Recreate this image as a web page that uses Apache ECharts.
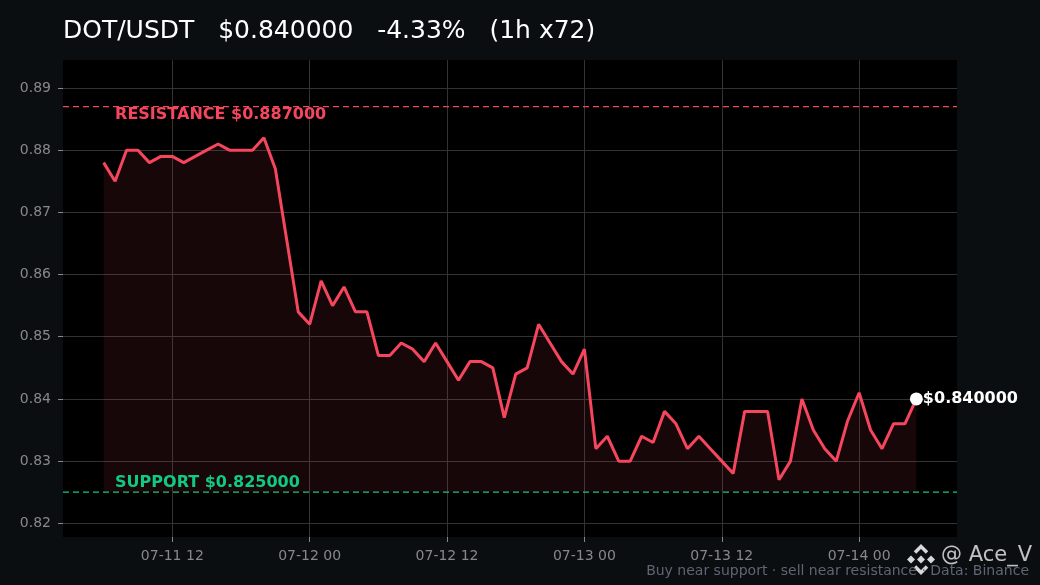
<!DOCTYPE html>
<html>
<head>
<meta charset="utf-8">
<script src="https://cdn.jsdelivr.net/npm/echarts@6/dist/echarts.min.js"></script>
<style>
html,body{margin:0;padding:0;background:#0b0e11;}
#c{width:1040px;height:585px;}
</style>
</head>
<body>
<div id="c"></div>
<script>
// hours since 07-11 00:00 (first point 07-11 06:00, hourly, 72 points)
const startHour = 6;
const prices = [
  0.878,0.875,0.880,0.880,0.878,0.879,0.879,0.878,0.879,0.880,
  0.881,0.880,0.880,0.880,0.882,0.877,0.8655,0.854,0.852,0.859,
  0.855,0.858,0.854,0.854,0.847,0.847,0.849,0.848,0.846,0.849,
  0.846,0.843,0.846,0.846,0.845,0.837,0.844,0.845,0.852,0.849,
  0.846,0.844,0.848,0.832,0.834,0.830,0.830,0.834,0.833,0.838,
  0.836,0.832,0.834,0.832,0.830,0.828,0.838,0.838,0.838,0.827,
  0.830,0.840,0.835,0.832,0.830,0.8365,0.841,0.835,0.832,0.836,
  0.836,0.840
];
const xTicks = [12,24,36,48,60,72];
const xTickLabels = ['07-11 12','07-12 00','07-12 12','07-13 00','07-13 12','07-14 00'];
const yTicks = [0.82,0.83,0.84,0.85,0.86,0.87,0.88,0.89];
const resistance = 0.887;
const support = 0.825;
const lastPrice = 0.840;
const titleText = 'DOT/USDT   $0.840000   -4.33%   (1h x72)';
const footerText = 'Buy near support · sell near resistance · Data: Binance';

const seriesData = prices.map((p,i)=>[startHour+i,p]);
const lastHour = startHour + prices.length - 1;
const pad = (lastHour - startHour) * 0.05;
const xMin = startHour - pad, xMax = lastHour + pad;

const chart = echarts.init(document.getElementById('c'));
const FONT = 'DejaVu Sans';
const RED = '#f6465d';
const GREEN = '#0ecb81';

function levelSeries(val, color, text, dy) {
  return {
    type: 'line',
    data: [[xMin, val], [xMax, val]],
    symbol: 'none',
    silent: true,
    lineStyle: {color: color, type: [6,4], width: 1.3},
    z: 2,
    markPoint: {
      silent: true,
      symbol: 'circle', symbolSize: 0,
      data: [{coord: [startHour + 1, val]}],
      label: {show: true, formatter: text, position: 'right', offset: [-5, dy], color: color, fontWeight: 'bold', fontSize: 16, fontFamily: FONT}
    }
  };
}

chart.setOption({
  backgroundColor: '#0b0e11',
  animation: false,
  textStyle: {fontFamily: FONT},
  title: {
    text: titleText,
    left: 58, top: 14,
    textStyle: {color: '#ffffff', fontSize: 25, fontWeight: 'normal', fontFamily: FONT}
  },
  grid: {
    left: 63, right: 83, top: 60, bottom: 48,
    show: true, backgroundColor: '#000000', borderWidth: 0
  },
  xAxis: {
    type: 'value',
    min: xMin, max: xMax,
    axisLine: {show: false},
    axisTick: {show: true, length: 5, lineStyle: {color: '#888'}, customValues: xTicks},
    axisLabel: {
      color: '#888', fontSize: 14, margin: 12, fontFamily: FONT,
      customValues: xTicks,
      formatter: v => xTickLabels[xTicks.indexOf(v)] || ''
    },
    splitLine: {show: true, lineStyle: {color: '#333', width: 1}}
  },
  yAxis: {
    type: 'value',
    min: 0.8178, max: 0.8945,
    axisLine: {show: false},
    axisTick: {show: true, length: 5, lineStyle: {color: '#888'}, customValues: yTicks},
    axisLabel: {
      color: '#888', fontSize: 14, margin: 12, fontFamily: FONT,
      customValues: yTicks,
      formatter: v => v.toFixed(2)
    },
    splitLine: {show: true, lineStyle: {color: '#333', width: 1}}
  },
  series: [
    {
      type: 'line',
      data: seriesData,
      symbol: 'none',
      lineStyle: {color: RED, width: 3},
      areaStyle: {color: 'rgba(246,70,93,0.14)', origin: support},
      z: 3
    },
    levelSeries(resistance, RED, 'RESISTANCE $' + resistance.toFixed(6), 8),
    levelSeries(support, GREEN, 'SUPPORT $' + support.toFixed(6), -9),
    {
      type: 'scatter',
      data: [[lastHour, lastPrice]],
      symbol: 'circle', symbolSize: 13,
      itemStyle: {color: '#ffffff', opacity: 1},
      z: 5,
      label: {show: true, position: 'right', distance: 0, formatter: '$' + lastPrice.toFixed(6), color: '#ffffff', fontWeight: 'bold', fontSize: 16, fontFamily: FONT}
    }
  ],
  graphic: [
    {
      type: 'text', right: 11, top: 564, z: 10,
      style: {text: footerText, fill: '#5e6673', font: '14px "DejaVu Sans"'}
    },
    {
      type: 'group', left: 907, top: 544, z: 11,
      children: [
        {type: 'polygon', shape: {points: [[14,10],[18,14],[14,18],[10,14]]}, style: {fill: '#d8d8d8'}},
        {type: 'polygon', shape: {points: [[4,10],[8,14],[4,18],[0,14]]}, style: {fill: '#d8d8d8'}},
        {type: 'polygon', shape: {points: [[24,10],[28,14],[24,18],[20,14]]}, style: {fill: '#d8d8d8'}},
        {type: 'polyline', shape: {points: [[8,7],[14,1],[20,7]]}, style: {stroke: '#d8d8d8', lineWidth: 3.5, fill: null}},
        {type: 'polyline', shape: {points: [[8,21],[14,27],[20,21]]}, style: {stroke: '#d8d8d8', lineWidth: 3.5, fill: null}}
      ]
    },
    {
      type: 'text', left: 941, top: 545, z: 11,
      style: {text: '@ Ace_V', fill: 'rgba(225,225,225,0.85)', font: '21px "DejaVu Sans"'}
    }
  ]
});
</script>
</body>
</html>
